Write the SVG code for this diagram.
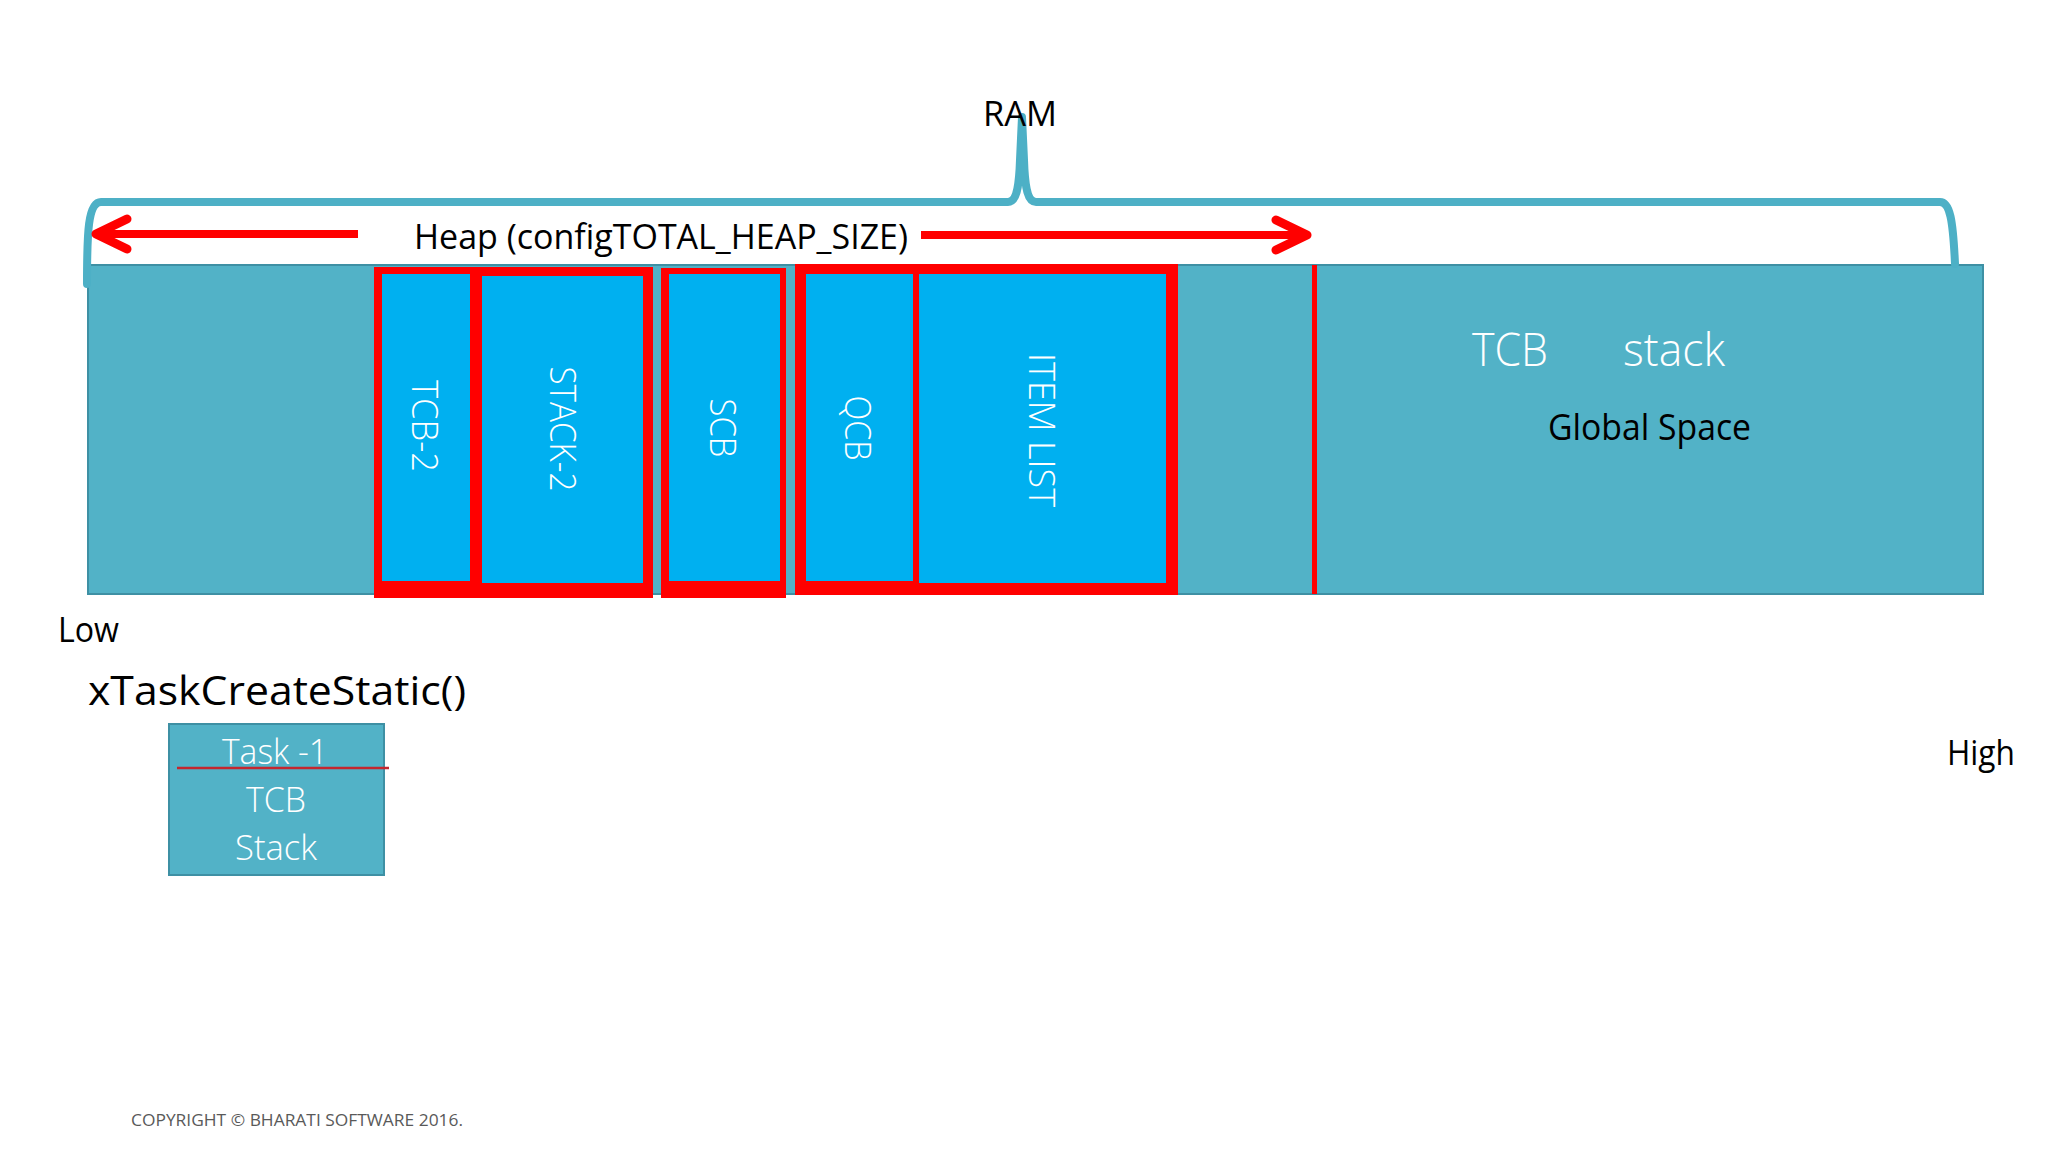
<svg xmlns="http://www.w3.org/2000/svg" width="2048" height="1152" viewBox="0 0 2048 1152">
<defs>
<style>
.t{font-family:"Open Sans","Liberation Sans",sans-serif}
.k{fill:#000}
.w{fill:#fff;font-weight:300}
.teal{fill:#52B2C7;stroke:#3E90A4;stroke-width:2}
.red{fill:#FF0000}
.cy{fill:#00B0F0}
.brace{fill:none;stroke:#4DB0C6;stroke-width:8;stroke-linecap:round;stroke-linejoin:round}
.harrow{fill:none;stroke:#FF0000;stroke-width:8}
</style>
<marker id="chev" markerUnits="userSpaceOnUse" viewBox="-45 -25 55 50" markerWidth="55" markerHeight="50" refX="0" refY="0" orient="auto">
<path d="M -31 -15 L 0 0 L -31 15" fill="none" stroke="#FF0000" stroke-width="9" stroke-linecap="round" stroke-linejoin="round"/>
</marker>
</defs>
<rect x="0" y="0" width="2048" height="1152" fill="#FFFFFF"/>

<g id="ram">
<rect class="teal" x="88" y="265" width="1895" height="329"/>
</g>

<g id="ram-brace">
<path class="brace" d="M 87 284 C 87 232 88 202 101 202 L 1008 202 C 1016 202 1019 190 1020 160 L 1022 117 L 1024 160 C 1025 190 1028 202 1036 202 L 1940 202 C 1950 202 1953 220 1955 264"/>
<text class="t k" x="983" y="126" font-size="34" textLength="74" lengthAdjust="spacingAndGlyphs">RAM</text>
</g>

<g id="heap-block-1">
<rect class="red" x="374" y="267" width="279" height="331"/>
<g id="tcb-2">
<rect class="cy" x="382" y="274" width="88" height="307"/>
<text class="t w" transform="translate(412,426) rotate(90)" font-size="36" text-anchor="middle" textLength="92" lengthAdjust="spacingAndGlyphs">TCB-2</text>
</g>
<g id="stack-2">
<rect class="cy" x="482" y="276" width="161" height="307"/>
<text class="t w" transform="translate(550,429) rotate(90)" font-size="36" text-anchor="middle" textLength="125" lengthAdjust="spacingAndGlyphs">STACK-2</text>
</g>
</g>

<g id="heap-block-2">
<rect class="red" x="661" y="268" width="125" height="330"/>
<g id="scb">
<rect class="cy" x="669" y="274" width="111" height="307"/>
<text class="t w" transform="translate(710,428) rotate(90)" font-size="36" text-anchor="middle" textLength="59" lengthAdjust="spacingAndGlyphs">SCB</text>
</g>
</g>

<g id="heap-block-3">
<rect class="red" x="795" y="264" width="383" height="331"/>
<g id="qcb">
<rect class="cy" x="806" y="274" width="107" height="307"/>
<text class="t w" transform="translate(845,428) rotate(90)" font-size="36" text-anchor="middle" textLength="65" lengthAdjust="spacingAndGlyphs">QCB</text>
</g>
<g id="item-list">
<rect class="cy" x="919" y="274" width="247" height="309"/>
<text class="t w" transform="translate(1029,430) rotate(90)" font-size="36" text-anchor="middle" textLength="154" lengthAdjust="spacingAndGlyphs">ITEM LIST</text>
</g>
</g>

<g id="heap-end">
<rect x="1312" y="265" width="5" height="329" fill="#FF0000"/>
</g>

<g id="global-space">
<text class="t w" x="1472" y="366" font-size="46" textLength="76" lengthAdjust="spacingAndGlyphs">TCB</text>
<text class="t w" x="1623" y="366" font-size="46" textLength="102" lengthAdjust="spacingAndGlyphs">stack</text>
<text class="t k" x="1548" y="440" font-size="36" textLength="203" lengthAdjust="spacingAndGlyphs">Global Space</text>
</g>

<g id="connectors">
<line class="harrow" x1="358" y1="234" x2="96" y2="234" marker-end="url(#chev)"/>
<line class="harrow" x1="921" y1="235" x2="1307" y2="235" marker-end="url(#chev)"/>
</g>

<g id="heap-label">
<text class="t k" x="414" y="249" font-size="34" textLength="494" lengthAdjust="spacingAndGlyphs">Heap (configTOTAL_HEAP_SIZE)</text>
</g>

<g id="labels">
<text class="t k" x="58" y="642" font-size="34" textLength="61" lengthAdjust="spacingAndGlyphs">Low</text>
<text class="t k" x="1947" y="765" font-size="34" textLength="68" lengthAdjust="spacingAndGlyphs">High</text>
<text class="t k" x="88" y="705" font-size="40" textLength="378" lengthAdjust="spacingAndGlyphs">xTaskCreateStatic()</text>
<text class="t" x="131" y="1126" font-size="16" fill="#595959" textLength="332" lengthAdjust="spacingAndGlyphs">COPYRIGHT © BHARATI SOFTWARE 2016.</text>
</g>

<g id="task-1">
<rect class="teal" x="169" y="724" width="215" height="151"/>
<text class="t w" x="222" y="764" font-size="35" textLength="106" lengthAdjust="spacingAndGlyphs">Task -1</text>
<line x1="177" y1="768" x2="389" y2="768" stroke="#C4262E" stroke-width="2.5"/>
<text class="t w" x="246" y="812" font-size="35" textLength="60" lengthAdjust="spacingAndGlyphs">TCB</text>
<text class="t w" x="235" y="860" font-size="35" textLength="82" lengthAdjust="spacingAndGlyphs">Stack</text>
</g>
</svg>
